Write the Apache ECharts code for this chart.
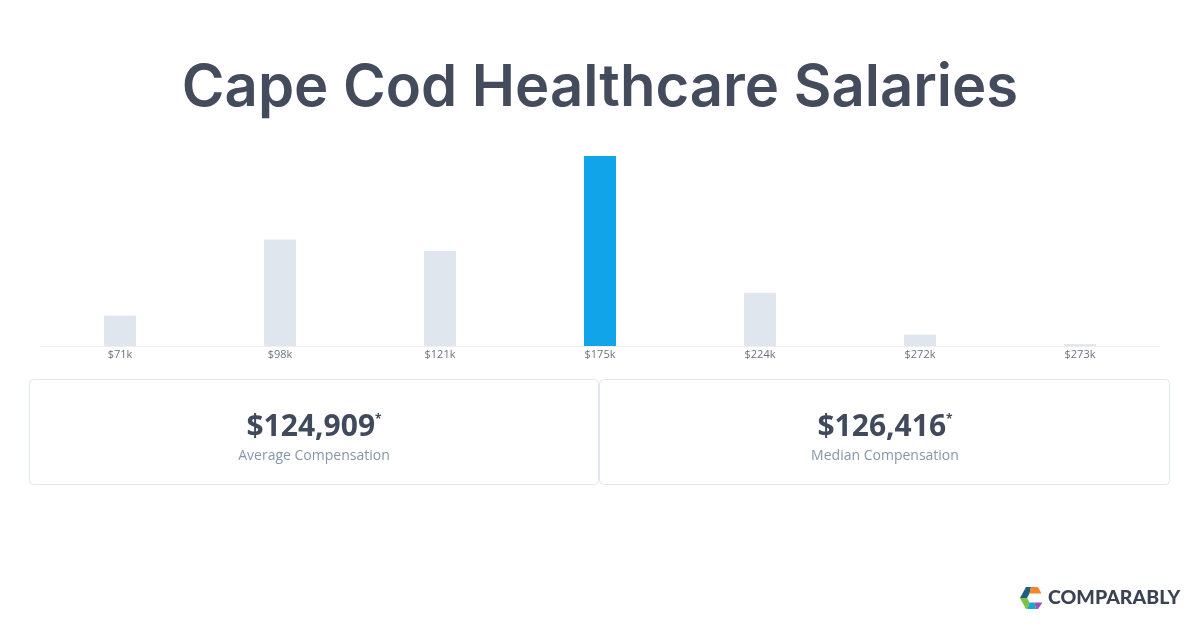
<!DOCTYPE html>
<html>
<head>
<meta charset="utf-8">
<script src="https://cdn.jsdelivr.net/npm/echarts@6/dist/echarts.min.js"></script>
<style>
html,body{margin:0;padding:0;background:#fff;}
#c{width:1200px;height:630px;}
</style>
</head>
<body>
<div id="c"></div>
<script>
const categories = ['$71k', '$98k', '$121k', '$175k', '$224k', '$272k', '$273k'];
const barValues = [16, 56, 50, 100, 28, 6, 1];
const highlightIndex = 3;
const titleText = 'Cape Cod Healthcare Salaries';
const statValues = ['$124,909', '$126,416'];
const statLabels = ['Average Compensation', 'Median Compensation'];

const chart = echarts.init(document.getElementById('c'));

function statText(i, cx) {
  return [
    {
      type: 'text', x: cx, y: 407,
      style: {
        text: '{n|' + statValues[i] + '}{s|*}',
        align: 'center',
        rich: {
          n: { fontFamily: 'Open Sans', fontWeight: 700, fontSize: 30, fill: '#414a5c', lineHeight: 40 },
          s: { fontFamily: 'Open Sans', fontWeight: 700, fontSize: 12, fill: '#414a5c', verticalAlign: 'top', padding: [7, 0, 0, 0] }
        }
      }
    },
    {
      type: 'text', x: cx, y: 449,
      style: {
        text: statLabels[i], align: 'center',
        fontFamily: 'Open Sans', fontSize: 14, fill: '#8597ac'
      }
    }
  ];
}

const option = {
  backgroundColor: '#ffffff',
  animation: false,
  title: {
    text: titleText,
    left: 'center',
    top: 55,
    textStyle: { fontFamily: 'Inter', fontWeight: 600, fontSize: 58, color: '#434b5d' }
  },
  grid: { left: 40, right: 40, top: 156, bottom: 284, containLabel: false },
  xAxis: {
    type: 'category',
    data: categories,
    axisLine: { lineStyle: { color: '#eceff3', width: 1 } },
    axisTick: { show: false },
    axisLabel: { color: '#6b7280', fontSize: 11, fontFamily: 'Open Sans', margin: 3 }
  },
  yAxis: { type: 'value', min: 0, max: 100, show: false, splitLine: { show: false } },
  series: [{
    type: 'bar',
    barWidth: 32,
    data: barValues.map((v, i) => ({
      value: v,
      itemStyle: { color: i === highlightIndex ? '#11a4e8' : '#dfe6ed' }
    })),
    silent: true
  }],
  graphic: [
    { type: 'rect', shape: { x: 29.5, y: 379.5, width: 569, height: 105, r: 4 },
      style: { fill: '#fff', stroke: '#e2e7ed', lineWidth: 1 } },
    { type: 'rect', shape: { x: 599.5, y: 379.5, width: 570, height: 105, r: 4 },
      style: { fill: '#fff', stroke: '#e2e7ed', lineWidth: 1 } },
    ...statText(0, 314),
    ...statText(1, 885),
    // logo icon
    { type: 'polygon', shape: { points: [[1020,598],[1026,587],[1031,587],[1029.5,593.5],[1027,598]] }, style: { fill: '#1d5f7c' } },
    { type: 'polygon', shape: { points: [[1031,587],[1038,587],[1041.5,593.5],[1029.5,593.5]] }, style: { fill: '#f5862b' } },
    { type: 'polygon', shape: { points: [[1020,598],[1027,598],[1029.5,602.5],[1027.5,609],[1026,609]] }, style: { fill: '#7dc243' } },
    { type: 'polygon', shape: { points: [[1027.5,609],[1036,609],[1034.5,602.5],[1029.5,602.5]] }, style: { fill: '#17a7cd' } },
    { type: 'polygon', shape: { points: [[1034.5,602.5],[1042.5,602.5],[1038,609],[1036,609]] }, style: { fill: '#9a54b8' } },
    { type: 'text', x: 1048, y: 588,
      style: { text: 'COMPARABLY', fontFamily: 'Lato', fontWeight: 900, fontSize: 19.5, fill: '#3b4252' } }
  ]
};
chart.setOption(option);
</script>
</body>
</html>
